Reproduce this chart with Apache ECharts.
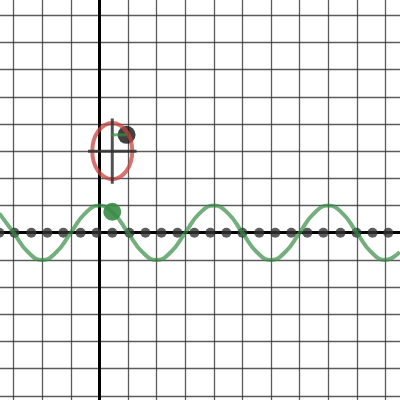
<!DOCTYPE html>
<html>
<head>
<meta charset="utf-8">
<script src="https://cdn.jsdelivr.net/npm/echarts@6/dist/echarts.min.js"></script>
<style>html,body{margin:0;padding:0;background:#fff;overflow:hidden;width:400px;height:400px}
#chart{position:absolute;left:-15px;top:-12px;width:429px;height:435px}</style>
</head>
<body>
<div id="chart"></div>
<script>
// wave samples, every half unit from -3.5
const waveX = [-3.5,-3,-2.5,-2,-1.5,-1,-0.5,0,0.5,1,1.5,2,2.5,3,3.5,4,4.5,5,5.5,6,6.5,7,7.5,8,8.5,9,9.5,10,10.5];
const waveY = [0.71,0,-0.71,-1,-0.71,0,0.71,1,0.71,0,-0.71,-1,-0.71,0,0.71,1,0.71,0,-0.71,-1,-0.71,0,0.71,1,0.71,0,-0.71,-1,-0.71];
const axisDotsX = [-3.5,-2.97,-2.38,-1.82,-1.26,-0.66,-0.1,0.45,1.05,1.61,2.17,2.73,3.32,3.88,4.44,5.0,5.59,6.15,6.71,7.27,7.83,8.43,8.99,9.55,10.1];
const ovalX = [1.15,1.1,0.945,0.72,0.45,0.18,-0.045,-0.2,-0.25,-0.2,-0.045,0.18,0.45,0.72,0.945,1.1,1.15];
const ovalY = [3,3.39,3.73,3.95,4.03,3.95,3.73,3.39,3,2.61,2.27,2.05,1.97,2.05,2.27,2.61,3];
const crossH = [[-0.4,3],[1.3,3]];
const crossV = [[0.45,4.2],[0.45,1.8]];
const greenPoint = [0.45,0.77];
const blackPoint = [0.95,3.6];
const tick = [[0.4,3.6],[0.95,3.6]];

const chart = echarts.init(document.getElementById("chart"));
const axisCommon = {
  type: "value", interval: 1,
  axisLine: { onZero: true, lineStyle: { color: "#000", width: 3 } },
  axisTick: { show: false }, axisLabel: { show: false },
  splitLine: { lineStyle: { color: "#333", width: 1.3, opacity: 0.8 } }
};
chart.setOption({
  animation: false,
  grid: { left: 0, top: 0, right: 0, bottom: 0 },
  xAxis: Object.assign({ min: -4, max: 11 }, axisCommon),
  yAxis: Object.assign({ min: -7, max: 9 }, axisCommon),
  series: [
    { type: "line", smooth: true, symbol: "none", data: waveX.map((x, i) => [x, waveY[i]]),
      lineStyle: { color: "#388c46", width: 4, opacity: 0.7 } },
    { type: "scatter", symbolSize: 10, data: axisDotsX.map(x => [x, 0]), itemStyle: { color: "#333" } },
    { type: "line", smooth: true, symbol: "none", data: ovalX.map((x, i) => [x, ovalY[i]]),
      lineStyle: { color: "#c74440", width: 4, opacity: 0.75 } },
    { type: "line", symbol: "none", data: crossH, lineStyle: { color: "#333", width: 3, opacity: 0.85 } },
    { type: "line", symbol: "none", data: crossV, lineStyle: { color: "#333", width: 3, opacity: 0.85 } },
    { type: "line", symbol: "none", data: tick, lineStyle: { color: "#388c46", width: 3, opacity: 0.7 } },
    { type: "scatter", symbolSize: 18, data: [greenPoint], itemStyle: { color: "#388c46", opacity: 0.9 } },
    { type: "scatter", symbolSize: 18, data: [blackPoint], itemStyle: { color: "#111" } }
  ]
});
</script>
</body>
</html>
